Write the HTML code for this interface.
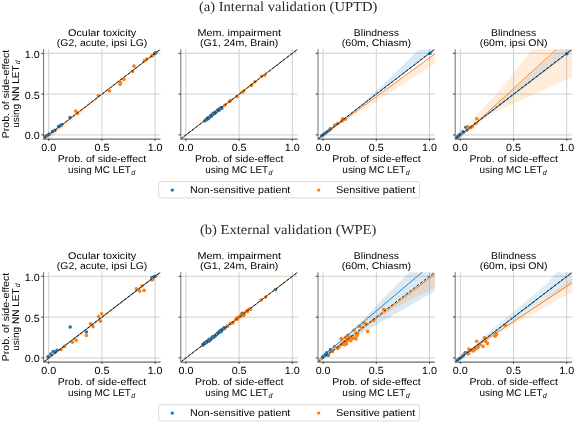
<!DOCTYPE html>
<html><head><meta charset="utf-8"><style>
html,body{margin:0;padding:0;background:#fff;width:575px;height:423px;overflow:hidden}
svg{display:block;will-change:transform}
text{font-family:"Liberation Sans", sans-serif;text-rendering:geometricPrecision}
</style></head><body>
<svg width="575" height="423" viewBox="0 0 575 423">
<rect width="575" height="423" fill="#fff"/>
<text x="198.90" y="11.30" style='font-family:"Liberation Serif", serif' font-size="13.6" textLength="178.5" lengthAdjust="spacingAndGlyphs" fill="#2a2a2a">(a) Internal validation (UPTD)</text>
<text x="102.05" y="35.90" text-anchor="middle" font-size="9.8" textLength="68.10" lengthAdjust="spacingAndGlyphs">Ocular toxicity</text>
<text x="102.05" y="46.30" text-anchor="middle" font-size="9.8" textLength="90.50" lengthAdjust="spacingAndGlyphs">(G2, acute, ipsi LG)</text>
<clipPath id="c00"><rect x="43.60" y="49.20" width="116.90" height="89.70"/></clipPath>
<path d="M48.70 49.20V138.90M43.60 134.90H160.50M101.90 49.20V138.90M43.60 94.10H160.50M155.10 49.20V138.90M43.60 53.30H160.50" stroke="#cfcfcf" stroke-width="1" fill="none"/>
<g clip-path="url(#c00)">
<polygon points="44.00,138.60 98.00,97.60 97.60,100.50 50.80,137.40 49.00,138.90" fill="rgba(255,127,14,0.15)"/>
<circle cx="45.50" cy="136.60" r="1.8" fill="#1f77b4"/>
<circle cx="47.00" cy="135.50" r="1.8" fill="#1f77b4"/>
<circle cx="49.20" cy="134.10" r="1.8" fill="#1f77b4"/>
<circle cx="52.50" cy="131.50" r="1.8" fill="#1f77b4"/>
<circle cx="54.70" cy="130.40" r="1.8" fill="#1f77b4"/>
<circle cx="58.40" cy="126.70" r="1.8" fill="#1f77b4"/>
<circle cx="61.50" cy="124.90" r="1.8" fill="#1f77b4"/>
<circle cx="60.00" cy="125.80" r="1.8" fill="#1f77b4"/>
<circle cx="70.10" cy="117.50" r="1.8" fill="#1f77b4"/>
<circle cx="154.70" cy="53.50" r="1.8" fill="#1f77b4"/>
<circle cx="155.70" cy="52.80" r="1.8" fill="#1f77b4"/>
<circle cx="75.60" cy="111.10" r="1.8" fill="#ff7f0e"/>
<circle cx="77.40" cy="113.20" r="1.8" fill="#ff7f0e"/>
<circle cx="98.30" cy="95.80" r="1.8" fill="#ff7f0e"/>
<circle cx="109.60" cy="91.00" r="1.8" fill="#ff7f0e"/>
<circle cx="120.10" cy="84.30" r="1.8" fill="#ff7f0e"/>
<circle cx="120.40" cy="82.60" r="1.8" fill="#ff7f0e"/>
<circle cx="123.90" cy="79.40" r="1.8" fill="#ff7f0e"/>
<circle cx="132.60" cy="71.50" r="1.8" fill="#ff7f0e"/>
<circle cx="134.00" cy="66.10" r="1.8" fill="#ff7f0e"/>
<circle cx="144.20" cy="60.90" r="1.8" fill="#ff7f0e"/>
<circle cx="146.70" cy="59.10" r="1.8" fill="#ff7f0e"/>
<circle cx="151.60" cy="56.00" r="1.8" fill="#ff7f0e"/>
<circle cx="152.60" cy="55.60" r="1.8" fill="#ff7f0e"/>
<line x1="43.60" y1="138.90" x2="160.50" y2="49.20" stroke="#1f77b4" stroke-width="0.9"/>
<line x1="43.60" y1="138.90" x2="160.50" y2="49.20" stroke="#ff7f0e" stroke-width="0.9"/>
<line x1="43.60" y1="138.90" x2="160.50" y2="49.20" stroke="#1a1a1a" stroke-width="1.0" stroke-dasharray="3 1.6"/>
</g>
<path d="M43.60 49.20V138.90" stroke="#707070" stroke-width="1" fill="none"/>
<path d="M43.10 139.15H160.50" stroke="#6a6a6a" stroke-width="1.3" fill="none"/>
<path d="M48.70 138.90v1.9M43.60 134.90h-2.3M101.90 138.90v1.9M43.60 94.10h-2.3M155.10 138.90v1.9M43.60 53.30h-2.3" stroke="#3a3a3a" stroke-width="1" fill="none"/>
<text x="48.70" y="150.60" text-anchor="middle" font-size="10.4" textLength="14.95" lengthAdjust="spacingAndGlyphs">0.0</text>
<text x="39.70" y="139.35" text-anchor="end" font-size="10.4" textLength="14.95" lengthAdjust="spacingAndGlyphs">0.0</text>
<text x="101.90" y="150.60" text-anchor="middle" font-size="10.4" textLength="14.95" lengthAdjust="spacingAndGlyphs">0.5</text>
<text x="39.70" y="98.55" text-anchor="end" font-size="10.4" textLength="14.95" lengthAdjust="spacingAndGlyphs">0.5</text>
<text x="155.10" y="150.60" text-anchor="middle" font-size="10.4" textLength="14.95" lengthAdjust="spacingAndGlyphs">1.0</text>
<text x="39.70" y="57.75" text-anchor="end" font-size="10.4" textLength="14.95" lengthAdjust="spacingAndGlyphs">1.0</text>
<text x="102.05" y="161.70" text-anchor="middle" font-size="9.8" textLength="88.45" lengthAdjust="spacingAndGlyphs">Prob. of side-effect</text>
<text x="99.45" y="172.60" text-anchor="middle" font-size="9.8" textLength="62.96" lengthAdjust="spacingAndGlyphs">using MC LET</text>
<text x="131.25" y="174.50" font-size="7" font-style="italic">d</text>
<text x="239.25" y="35.90" text-anchor="middle" font-size="9.8" textLength="83.42" lengthAdjust="spacingAndGlyphs">Mem. impairment</text>
<text x="239.25" y="46.30" text-anchor="middle" font-size="9.8" textLength="78.31" lengthAdjust="spacingAndGlyphs">(G1, 24m, Brain)</text>
<clipPath id="c01"><rect x="180.80" y="49.20" width="116.90" height="89.70"/></clipPath>
<path d="M185.90 49.20V138.90M180.80 134.90H297.70M239.10 49.20V138.90M180.80 94.10H297.70M292.30 49.20V138.90M180.80 53.30H297.70" stroke="#cfcfcf" stroke-width="1" fill="none"/>
<g clip-path="url(#c01)">
<circle cx="204.89" cy="120.85" r="1.8" fill="#1f77b4"/>
<circle cx="206.05" cy="119.53" r="1.8" fill="#1f77b4"/>
<circle cx="206.47" cy="119.46" r="1.8" fill="#1f77b4"/>
<circle cx="207.51" cy="118.33" r="1.8" fill="#1f77b4"/>
<circle cx="208.23" cy="117.75" r="1.8" fill="#1f77b4"/>
<circle cx="208.04" cy="118.68" r="1.8" fill="#1f77b4"/>
<circle cx="208.64" cy="118.29" r="1.8" fill="#1f77b4"/>
<circle cx="210.61" cy="115.63" r="1.8" fill="#1f77b4"/>
<circle cx="210.40" cy="116.61" r="1.8" fill="#1f77b4"/>
<circle cx="211.04" cy="116.15" r="1.8" fill="#1f77b4"/>
<circle cx="212.91" cy="113.65" r="1.8" fill="#1f77b4"/>
<circle cx="212.78" cy="114.49" r="1.8" fill="#1f77b4"/>
<circle cx="214.03" cy="113.01" r="1.8" fill="#1f77b4"/>
<circle cx="214.16" cy="113.43" r="1.8" fill="#1f77b4"/>
<circle cx="215.09" cy="112.48" r="1.8" fill="#1f77b4"/>
<circle cx="215.01" cy="113.23" r="1.8" fill="#1f77b4"/>
<circle cx="216.45" cy="111.45" r="1.8" fill="#1f77b4"/>
<circle cx="217.50" cy="110.32" r="1.8" fill="#1f77b4"/>
<circle cx="217.65" cy="110.69" r="1.8" fill="#1f77b4"/>
<circle cx="218.67" cy="109.60" r="1.8" fill="#1f77b4"/>
<circle cx="219.25" cy="109.26" r="1.8" fill="#1f77b4"/>
<circle cx="218.98" cy="110.31" r="1.8" fill="#1f77b4"/>
<circle cx="220.75" cy="107.99" r="1.8" fill="#1f77b4"/>
<circle cx="221.17" cy="107.90" r="1.8" fill="#1f77b4"/>
<circle cx="221.41" cy="108.13" r="1.8" fill="#1f77b4"/>
<circle cx="221.67" cy="108.31" r="1.8" fill="#1f77b4"/>
<circle cx="224.80" cy="105.10" r="1.8" fill="#ff7f0e"/>
<circle cx="229.70" cy="101.40" r="1.8" fill="#ff7f0e"/>
<circle cx="230.50" cy="100.60" r="1.8" fill="#ff7f0e"/>
<circle cx="237.00" cy="96.60" r="1.8" fill="#ff7f0e"/>
<circle cx="242.50" cy="92.10" r="1.8" fill="#ff7f0e"/>
<circle cx="243.50" cy="91.30" r="1.8" fill="#ff7f0e"/>
<circle cx="251.00" cy="85.60" r="1.8" fill="#ff7f0e"/>
<circle cx="251.70" cy="85.00" r="1.8" fill="#ff7f0e"/>
<circle cx="255.00" cy="81.70" r="1.8" fill="#ff7f0e"/>
<circle cx="261.50" cy="76.30" r="1.8" fill="#ff7f0e"/>
<circle cx="264.80" cy="75.20" r="1.8" fill="#ff7f0e"/>
<line x1="180.80" y1="138.90" x2="297.70" y2="49.20" stroke="#1f77b4" stroke-width="0.9"/>
<line x1="180.80" y1="138.90" x2="297.70" y2="49.20" stroke="#ff7f0e" stroke-width="0.9"/>
<line x1="180.80" y1="138.90" x2="297.70" y2="49.20" stroke="#1a1a1a" stroke-width="1.0" stroke-dasharray="3 1.6"/>
</g>
<path d="M180.80 49.20V138.90" stroke="#707070" stroke-width="1" fill="none"/>
<path d="M180.30 139.15H297.70" stroke="#6a6a6a" stroke-width="1.3" fill="none"/>
<path d="M185.90 138.90v1.9M180.80 134.90h-2.3M239.10 138.90v1.9M180.80 94.10h-2.3M292.30 138.90v1.9M180.80 53.30h-2.3" stroke="#3a3a3a" stroke-width="1" fill="none"/>
<text x="185.90" y="150.60" text-anchor="middle" font-size="10.4" textLength="14.95" lengthAdjust="spacingAndGlyphs">0.0</text>
<text x="239.10" y="150.60" text-anchor="middle" font-size="10.4" textLength="14.95" lengthAdjust="spacingAndGlyphs">0.5</text>
<text x="292.30" y="150.60" text-anchor="middle" font-size="10.4" textLength="14.95" lengthAdjust="spacingAndGlyphs">1.0</text>
<text x="239.25" y="161.70" text-anchor="middle" font-size="9.8" textLength="88.45" lengthAdjust="spacingAndGlyphs">Prob. of side-effect</text>
<text x="236.65" y="172.60" text-anchor="middle" font-size="9.8" textLength="62.96" lengthAdjust="spacingAndGlyphs">using MC LET</text>
<text x="268.45" y="174.50" font-size="7" font-style="italic">d</text>
<text x="376.45" y="35.90" text-anchor="middle" font-size="9.8" textLength="45.13" lengthAdjust="spacingAndGlyphs">Blindness</text>
<text x="376.45" y="46.30" text-anchor="middle" font-size="9.8" textLength="69.38" lengthAdjust="spacingAndGlyphs">(60m, Chiasm)</text>
<clipPath id="c02"><rect x="318.00" y="49.20" width="116.90" height="89.70"/></clipPath>
<path d="M323.10 49.20V138.90M318.00 134.90H434.90M376.30 49.20V138.90M318.00 94.10H434.90M429.50 49.20V138.90M318.00 53.30H434.90" stroke="#cfcfcf" stroke-width="1" fill="none"/>
<g clip-path="url(#c02)">
<polygon points="320.00,137.00 347.60,116.00 358.90,106.50 377.80,89.50 419.40,49.20 436.00,49.20 436.00,48.50 345.00,118.10" fill="rgba(31,119,180,0.16)"/>
<polygon points="345.00,119.50 436.00,53.20 436.00,63.20 345.00,121.00" fill="rgba(255,127,14,0.15)"/>
<circle cx="321.80" cy="135.80" r="1.8" fill="#1f77b4"/>
<circle cx="323.50" cy="134.60" r="1.8" fill="#1f77b4"/>
<circle cx="325.20" cy="133.20" r="1.8" fill="#1f77b4"/>
<circle cx="327.20" cy="131.80" r="1.8" fill="#1f77b4"/>
<circle cx="329.20" cy="130.20" r="1.8" fill="#1f77b4"/>
<circle cx="330.50" cy="128.80" r="1.8" fill="#1f77b4"/>
<circle cx="430.00" cy="53.30" r="1.8" fill="#1f77b4"/>
<circle cx="330.60" cy="129.20" r="1.8" fill="#ff7f0e"/>
<circle cx="334.80" cy="125.00" r="1.8" fill="#ff7f0e"/>
<circle cx="337.90" cy="123.50" r="1.8" fill="#ff7f0e"/>
<circle cx="342.10" cy="120.90" r="1.8" fill="#ff7f0e"/>
<circle cx="342.60" cy="118.80" r="1.8" fill="#ff7f0e"/>
<circle cx="345.20" cy="119.30" r="1.8" fill="#ff7f0e"/>
<line x1="318.00" y1="139.20" x2="436.00" y2="53.10" stroke="#ff7f0e" stroke-width="0.9"/>
<line x1="318.00" y1="138.90" x2="436.00" y2="48.20" stroke="#1f77b4" stroke-width="0.9"/>
<line x1="318.00" y1="138.90" x2="434.90" y2="49.20" stroke="#1a1a1a" stroke-width="1.0" stroke-dasharray="3 1.6"/>
</g>
<path d="M318.00 49.20V138.90" stroke="#707070" stroke-width="1" fill="none"/>
<path d="M317.50 139.15H434.90" stroke="#6a6a6a" stroke-width="1.3" fill="none"/>
<path d="M323.10 138.90v1.9M318.00 134.90h-2.3M376.30 138.90v1.9M318.00 94.10h-2.3M429.50 138.90v1.9M318.00 53.30h-2.3" stroke="#3a3a3a" stroke-width="1" fill="none"/>
<text x="323.10" y="150.60" text-anchor="middle" font-size="10.4" textLength="14.95" lengthAdjust="spacingAndGlyphs">0.0</text>
<text x="376.30" y="150.60" text-anchor="middle" font-size="10.4" textLength="14.95" lengthAdjust="spacingAndGlyphs">0.5</text>
<text x="429.50" y="150.60" text-anchor="middle" font-size="10.4" textLength="14.95" lengthAdjust="spacingAndGlyphs">1.0</text>
<text x="376.45" y="161.70" text-anchor="middle" font-size="9.8" textLength="88.45" lengthAdjust="spacingAndGlyphs">Prob. of side-effect</text>
<text x="373.85" y="172.60" text-anchor="middle" font-size="9.8" textLength="62.96" lengthAdjust="spacingAndGlyphs">using MC LET</text>
<text x="405.65" y="174.50" font-size="7" font-style="italic">d</text>
<text x="513.65" y="35.90" text-anchor="middle" font-size="9.8" textLength="45.13" lengthAdjust="spacingAndGlyphs">Blindness</text>
<text x="513.65" y="46.30" text-anchor="middle" font-size="9.8" textLength="67.93" lengthAdjust="spacingAndGlyphs">(60m, ipsi ON)</text>
<clipPath id="c03"><rect x="455.20" y="49.20" width="116.90" height="89.70"/></clipPath>
<path d="M460.30 49.20V138.90M455.20 134.90H572.10M513.50 49.20V138.90M455.20 94.10H572.10M566.70 49.20V138.90M455.20 53.30H572.10" stroke="#cfcfcf" stroke-width="1" fill="none"/>
<g clip-path="url(#c03)">
<polygon points="460.00,133.00 505.00,84.30 531.80,49.20 573.00,49.20 573.00,76.60 475.70,120.80 460.00,130.00" fill="rgba(255,127,14,0.15)"/>
<polygon points="470.00,128.50 558.60,49.20 573.00,49.20 573.00,50.00 470.00,130.00" fill="rgba(31,119,180,0.12)"/>
<circle cx="457.00" cy="137.20" r="1.8" fill="#1f77b4"/>
<circle cx="458.00" cy="136.20" r="1.8" fill="#1f77b4"/>
<circle cx="459.90" cy="134.20" r="1.8" fill="#1f77b4"/>
<circle cx="462.90" cy="131.70" r="1.8" fill="#1f77b4"/>
<circle cx="465.90" cy="127.30" r="1.8" fill="#1f77b4"/>
<circle cx="566.90" cy="53.70" r="1.8" fill="#1f77b4"/>
<circle cx="466.90" cy="130.30" r="1.8" fill="#ff7f0e"/>
<circle cx="467.90" cy="126.80" r="1.8" fill="#ff7f0e"/>
<circle cx="470.90" cy="127.80" r="1.8" fill="#ff7f0e"/>
<circle cx="472.30" cy="126.30" r="1.8" fill="#ff7f0e"/>
<circle cx="475.80" cy="123.30" r="1.8" fill="#ff7f0e"/>
<circle cx="476.80" cy="118.80" r="1.8" fill="#ff7f0e"/>
<line x1="455.00" y1="142.05" x2="560.00" y2="46.19" stroke="#ff7f0e" stroke-width="0.9"/>
<line x1="455.30" y1="138.90" x2="572.60" y2="49.20" stroke="#1f77b4" stroke-width="0.9"/>
<line x1="455.20" y1="138.90" x2="572.10" y2="49.20" stroke="#1a1a1a" stroke-width="1.0" stroke-dasharray="3 1.6"/>
</g>
<path d="M455.20 49.20V138.90" stroke="#707070" stroke-width="1" fill="none"/>
<path d="M454.70 139.15H572.10" stroke="#6a6a6a" stroke-width="1.3" fill="none"/>
<path d="M460.30 138.90v1.9M455.20 134.90h-2.3M513.50 138.90v1.9M455.20 94.10h-2.3M566.70 138.90v1.9M455.20 53.30h-2.3" stroke="#3a3a3a" stroke-width="1" fill="none"/>
<text x="460.30" y="150.60" text-anchor="middle" font-size="10.4" textLength="14.95" lengthAdjust="spacingAndGlyphs">0.0</text>
<text x="513.50" y="150.60" text-anchor="middle" font-size="10.4" textLength="14.95" lengthAdjust="spacingAndGlyphs">0.5</text>
<text x="566.70" y="150.60" text-anchor="middle" font-size="10.4" textLength="14.95" lengthAdjust="spacingAndGlyphs">1.0</text>
<text x="513.65" y="161.70" text-anchor="middle" font-size="9.8" textLength="88.45" lengthAdjust="spacingAndGlyphs">Prob. of side-effect</text>
<text x="511.05" y="172.60" text-anchor="middle" font-size="9.8" textLength="62.96" lengthAdjust="spacingAndGlyphs">using MC LET</text>
<text x="542.85" y="174.50" font-size="7" font-style="italic">d</text>
<g transform="translate(9.0 94.05) rotate(-90)">
<text x="0.00" y="0.00" text-anchor="middle" font-size="9.8" textLength="88.45" lengthAdjust="spacingAndGlyphs">Prob. of side-effect</text>
</g>
<g transform="translate(19.45 94.05) rotate(-90)">
<text x="-2.60" y="0.00" text-anchor="middle" font-size="9.8" textLength="62.35" lengthAdjust="spacingAndGlyphs">using NN LET</text>
<text x="29.7" y="1.0" font-size="7" font-style="italic">d</text>
</g>
<rect x="158.7" y="181.60" width="260.8" height="16.3" rx="2" ry="2" fill="#fff" stroke="#d6d6d6" stroke-width="0.9"/>
<circle cx="172.3" cy="190.10" r="1.7" fill="#1f77b4"/>
<circle cx="318.7" cy="190.10" r="1.7" fill="#ff7f0e"/>
<text x="190.00" y="192.90" text-anchor="start" font-size="9.8" textLength="100.36" lengthAdjust="spacingAndGlyphs">Non-sensitive patient</text>
<text x="336.00" y="192.90" text-anchor="start" font-size="9.8" textLength="79.30" lengthAdjust="spacingAndGlyphs">Sensitive patient</text>
<text x="199.90" y="234.30" style='font-family:"Liberation Serif", serif' font-size="13.6" textLength="176.5" lengthAdjust="spacingAndGlyphs" fill="#2a2a2a">(b) External validation (WPE)</text>
<text x="102.05" y="258.90" text-anchor="middle" font-size="9.8" textLength="68.10" lengthAdjust="spacingAndGlyphs">Ocular toxicity</text>
<text x="102.05" y="269.30" text-anchor="middle" font-size="9.8" textLength="90.50" lengthAdjust="spacingAndGlyphs">(G2, acute, ipsi LG)</text>
<clipPath id="c10"><rect x="43.60" y="272.20" width="116.90" height="89.70"/></clipPath>
<path d="M48.70 272.20V361.90M43.60 357.90H160.50M101.90 272.20V361.90M43.60 317.10H160.50M155.10 272.20V361.90M43.60 276.30H160.50" stroke="#cfcfcf" stroke-width="1" fill="none"/>
<g clip-path="url(#c10)">
<circle cx="70.20" cy="327.00" r="1.8" fill="#1f77b4"/>
<circle cx="86.40" cy="332.00" r="1.8" fill="#1f77b4"/>
<circle cx="53.20" cy="351.50" r="1.8" fill="#1f77b4"/>
<circle cx="57.00" cy="350.20" r="1.8" fill="#1f77b4"/>
<circle cx="50.70" cy="354.00" r="1.8" fill="#1f77b4"/>
<circle cx="48.10" cy="356.60" r="1.8" fill="#1f77b4"/>
<circle cx="55.00" cy="352.00" r="1.8" fill="#1f77b4"/>
<circle cx="151.90" cy="277.80" r="1.8" fill="#1f77b4"/>
<circle cx="155.20" cy="276.20" r="1.8" fill="#1f77b4"/>
<circle cx="153.50" cy="277.00" r="1.8" fill="#1f77b4"/>
<circle cx="86.40" cy="335.50" r="1.8" fill="#ff7f0e"/>
<circle cx="72.40" cy="342.20" r="1.8" fill="#ff7f0e"/>
<circle cx="76.20" cy="340.30" r="1.8" fill="#ff7f0e"/>
<circle cx="64.50" cy="346.40" r="1.8" fill="#ff7f0e"/>
<circle cx="60.90" cy="349.60" r="1.8" fill="#ff7f0e"/>
<circle cx="90.50" cy="323.80" r="1.8" fill="#ff7f0e"/>
<circle cx="93.10" cy="326.60" r="1.8" fill="#ff7f0e"/>
<circle cx="98.60" cy="316.60" r="1.8" fill="#ff7f0e"/>
<circle cx="101.70" cy="313.80" r="1.8" fill="#ff7f0e"/>
<circle cx="100.50" cy="321.20" r="1.8" fill="#ff7f0e"/>
<circle cx="136.30" cy="288.90" r="1.8" fill="#ff7f0e"/>
<circle cx="139.70" cy="291.10" r="1.8" fill="#ff7f0e"/>
<circle cx="141.90" cy="286.00" r="1.8" fill="#ff7f0e"/>
<circle cx="144.10" cy="290.40" r="1.8" fill="#ff7f0e"/>
<circle cx="151.90" cy="280.00" r="1.8" fill="#ff7f0e"/>
<circle cx="153.00" cy="279.00" r="1.8" fill="#ff7f0e"/>
<line x1="43.60" y1="362.50" x2="160.90" y2="272.20" stroke="#ff7f0e" stroke-width="0.9"/>
<line x1="43.60" y1="361.90" x2="160.90" y2="271.60" stroke="#1f77b4" stroke-width="0.9"/>
<line x1="43.60" y1="361.90" x2="160.50" y2="272.20" stroke="#1a1a1a" stroke-width="1.0" stroke-dasharray="3 1.6"/>
</g>
<path d="M43.60 272.20V361.90" stroke="#707070" stroke-width="1" fill="none"/>
<path d="M43.10 362.15H160.50" stroke="#6a6a6a" stroke-width="1.3" fill="none"/>
<path d="M48.70 361.90v1.9M43.60 357.90h-2.3M101.90 361.90v1.9M43.60 317.10h-2.3M155.10 361.90v1.9M43.60 276.30h-2.3" stroke="#3a3a3a" stroke-width="1" fill="none"/>
<text x="48.70" y="373.60" text-anchor="middle" font-size="10.4" textLength="14.95" lengthAdjust="spacingAndGlyphs">0.0</text>
<text x="39.70" y="362.35" text-anchor="end" font-size="10.4" textLength="14.95" lengthAdjust="spacingAndGlyphs">0.0</text>
<text x="101.90" y="373.60" text-anchor="middle" font-size="10.4" textLength="14.95" lengthAdjust="spacingAndGlyphs">0.5</text>
<text x="39.70" y="321.55" text-anchor="end" font-size="10.4" textLength="14.95" lengthAdjust="spacingAndGlyphs">0.5</text>
<text x="155.10" y="373.60" text-anchor="middle" font-size="10.4" textLength="14.95" lengthAdjust="spacingAndGlyphs">1.0</text>
<text x="39.70" y="280.75" text-anchor="end" font-size="10.4" textLength="14.95" lengthAdjust="spacingAndGlyphs">1.0</text>
<text x="102.05" y="384.70" text-anchor="middle" font-size="9.8" textLength="88.45" lengthAdjust="spacingAndGlyphs">Prob. of side-effect</text>
<text x="99.45" y="395.60" text-anchor="middle" font-size="9.8" textLength="62.96" lengthAdjust="spacingAndGlyphs">using MC LET</text>
<text x="131.25" y="397.50" font-size="7" font-style="italic">d</text>
<text x="239.25" y="258.90" text-anchor="middle" font-size="9.8" textLength="83.42" lengthAdjust="spacingAndGlyphs">Mem. impairment</text>
<text x="239.25" y="269.30" text-anchor="middle" font-size="9.8" textLength="78.31" lengthAdjust="spacingAndGlyphs">(G1, 24m, Brain)</text>
<clipPath id="c11"><rect x="180.80" y="272.20" width="116.90" height="89.70"/></clipPath>
<path d="M185.90 272.20V361.90M180.80 357.90H297.70M239.10 272.20V361.90M180.80 317.10H297.70M292.30 272.20V361.90M180.80 276.30H297.70" stroke="#cfcfcf" stroke-width="1" fill="none"/>
<g clip-path="url(#c11)">
<circle cx="202.86" cy="344.44" r="1.8" fill="#1f77b4"/>
<circle cx="202.82" cy="345.10" r="1.8" fill="#1f77b4"/>
<circle cx="203.94" cy="343.85" r="1.8" fill="#1f77b4"/>
<circle cx="204.90" cy="342.86" r="1.8" fill="#1f77b4"/>
<circle cx="205.28" cy="342.84" r="1.8" fill="#1f77b4"/>
<circle cx="206.32" cy="341.70" r="1.8" fill="#1f77b4"/>
<circle cx="206.05" cy="342.76" r="1.8" fill="#1f77b4"/>
<circle cx="207.45" cy="341.03" r="1.8" fill="#1f77b4"/>
<circle cx="207.48" cy="341.59" r="1.8" fill="#1f77b4"/>
<circle cx="209.04" cy="339.60" r="1.8" fill="#1f77b4"/>
<circle cx="209.61" cy="339.25" r="1.8" fill="#1f77b4"/>
<circle cx="208.88" cy="341.08" r="1.8" fill="#1f77b4"/>
<circle cx="209.62" cy="340.45" r="1.8" fill="#1f77b4"/>
<circle cx="210.44" cy="339.70" r="1.8" fill="#1f77b4"/>
<circle cx="212.46" cy="336.94" r="1.8" fill="#1f77b4"/>
<circle cx="212.18" cy="338.01" r="1.8" fill="#1f77b4"/>
<circle cx="213.19" cy="336.92" r="1.8" fill="#1f77b4"/>
<circle cx="213.28" cy="337.39" r="1.8" fill="#1f77b4"/>
<circle cx="214.32" cy="336.25" r="1.8" fill="#1f77b4"/>
<circle cx="214.78" cy="336.10" r="1.8" fill="#1f77b4"/>
<circle cx="215.39" cy="335.69" r="1.8" fill="#1f77b4"/>
<circle cx="216.48" cy="334.48" r="1.8" fill="#1f77b4"/>
<circle cx="217.15" cy="333.97" r="1.8" fill="#1f77b4"/>
<circle cx="218.40" cy="332.49" r="1.8" fill="#1f77b4"/>
<circle cx="218.67" cy="332.64" r="1.8" fill="#1f77b4"/>
<circle cx="219.79" cy="331.39" r="1.8" fill="#1f77b4"/>
<circle cx="220.33" cy="331.09" r="1.8" fill="#1f77b4"/>
<circle cx="221.25" cy="330.17" r="1.8" fill="#1f77b4"/>
<circle cx="221.34" cy="330.62" r="1.8" fill="#1f77b4"/>
<circle cx="221.10" cy="331.63" r="1.8" fill="#1f77b4"/>
<circle cx="223.03" cy="329.02" r="1.8" fill="#1f77b4"/>
<circle cx="223.89" cy="328.19" r="1.8" fill="#1f77b4"/>
<circle cx="224.46" cy="327.86" r="1.8" fill="#1f77b4"/>
<circle cx="224.52" cy="328.35" r="1.8" fill="#1f77b4"/>
<circle cx="242.20" cy="313.30" r="1.8" fill="#1f77b4"/>
<circle cx="275.60" cy="289.60" r="1.8" fill="#1f77b4"/>
<circle cx="227.08" cy="326.16" r="1.8" fill="#ff7f0e"/>
<circle cx="227.62" cy="326.57" r="1.8" fill="#ff7f0e"/>
<circle cx="230.17" cy="323.61" r="1.8" fill="#ff7f0e"/>
<circle cx="231.14" cy="323.29" r="1.8" fill="#ff7f0e"/>
<circle cx="232.05" cy="323.06" r="1.8" fill="#ff7f0e"/>
<circle cx="233.09" cy="322.62" r="1.8" fill="#ff7f0e"/>
<circle cx="235.95" cy="319.15" r="1.8" fill="#ff7f0e"/>
<circle cx="237.63" cy="317.65" r="1.8" fill="#ff7f0e"/>
<circle cx="237.44" cy="319.25" r="1.8" fill="#ff7f0e"/>
<circle cx="240.16" cy="316.02" r="1.8" fill="#ff7f0e"/>
<circle cx="240.89" cy="316.09" r="1.8" fill="#ff7f0e"/>
<circle cx="241.86" cy="315.77" r="1.8" fill="#ff7f0e"/>
<circle cx="243.55" cy="314.25" r="1.8" fill="#ff7f0e"/>
<circle cx="245.84" cy="311.73" r="1.8" fill="#ff7f0e"/>
<circle cx="247.47" cy="310.32" r="1.8" fill="#ff7f0e"/>
<circle cx="247.41" cy="311.70" r="1.8" fill="#ff7f0e"/>
<circle cx="249.87" cy="308.90" r="1.8" fill="#ff7f0e"/>
<circle cx="250.28" cy="309.51" r="1.8" fill="#ff7f0e"/>
<circle cx="240.00" cy="316.70" r="1.8" fill="#ff7f0e"/>
<circle cx="244.00" cy="315.50" r="1.8" fill="#ff7f0e"/>
<circle cx="261.10" cy="300.00" r="1.8" fill="#ff7f0e"/>
<circle cx="265.60" cy="297.10" r="1.8" fill="#ff7f0e"/>
<line x1="180.80" y1="361.90" x2="297.70" y2="272.20" stroke="#1f77b4" stroke-width="0.9"/>
<line x1="180.80" y1="361.90" x2="297.70" y2="272.20" stroke="#ff7f0e" stroke-width="0.9"/>
<line x1="180.80" y1="361.90" x2="297.70" y2="272.20" stroke="#1a1a1a" stroke-width="1.0" stroke-dasharray="3 1.6"/>
</g>
<path d="M180.80 272.20V361.90" stroke="#707070" stroke-width="1" fill="none"/>
<path d="M180.30 362.15H297.70" stroke="#6a6a6a" stroke-width="1.3" fill="none"/>
<path d="M185.90 361.90v1.9M180.80 357.90h-2.3M239.10 361.90v1.9M180.80 317.10h-2.3M292.30 361.90v1.9M180.80 276.30h-2.3" stroke="#3a3a3a" stroke-width="1" fill="none"/>
<text x="185.90" y="373.60" text-anchor="middle" font-size="10.4" textLength="14.95" lengthAdjust="spacingAndGlyphs">0.0</text>
<text x="239.10" y="373.60" text-anchor="middle" font-size="10.4" textLength="14.95" lengthAdjust="spacingAndGlyphs">0.5</text>
<text x="292.30" y="373.60" text-anchor="middle" font-size="10.4" textLength="14.95" lengthAdjust="spacingAndGlyphs">1.0</text>
<text x="239.25" y="384.70" text-anchor="middle" font-size="9.8" textLength="88.45" lengthAdjust="spacingAndGlyphs">Prob. of side-effect</text>
<text x="236.65" y="395.60" text-anchor="middle" font-size="9.8" textLength="62.96" lengthAdjust="spacingAndGlyphs">using MC LET</text>
<text x="268.45" y="397.50" font-size="7" font-style="italic">d</text>
<text x="376.45" y="258.90" text-anchor="middle" font-size="9.8" textLength="45.13" lengthAdjust="spacingAndGlyphs">Blindness</text>
<text x="376.45" y="269.30" text-anchor="middle" font-size="9.8" textLength="69.38" lengthAdjust="spacingAndGlyphs">(60m, Chiasm)</text>
<clipPath id="c12"><rect x="318.00" y="272.20" width="116.90" height="89.70"/></clipPath>
<path d="M323.10 272.20V361.90M318.00 357.90H434.90M376.30 272.20V361.90M318.00 317.10H434.90M429.50 272.20V361.90M318.00 276.30H434.90" stroke="#cfcfcf" stroke-width="1" fill="none"/>
<g clip-path="url(#c12)">
<polygon points="320.00,359.00 363.50,319.30 383.60,298.00 407.30,274.40 409.40,272.20 436.00,272.20 436.00,290.40 410.00,305.40 354.70,337.20 320.00,360.00" fill="rgba(31,119,180,0.16)"/>
<polygon points="340.00,345.00 436.00,271.70 436.00,287.00 410.00,300.00 377.20,318.30 340.00,347.00" fill="rgba(255,127,14,0.15)"/>
<circle cx="330.40" cy="349.90" r="1.8" fill="#1f77b4"/>
<circle cx="326.60" cy="352.90" r="1.8" fill="#1f77b4"/>
<circle cx="325.10" cy="354.70" r="1.8" fill="#1f77b4"/>
<circle cx="322.80" cy="356.70" r="1.8" fill="#1f77b4"/>
<circle cx="328.10" cy="355.20" r="1.8" fill="#1f77b4"/>
<circle cx="383.70" cy="309.40" r="1.8" fill="#ff7f0e"/>
<circle cx="373.50" cy="320.40" r="1.8" fill="#ff7f0e"/>
<circle cx="367.70" cy="331.40" r="1.8" fill="#ff7f0e"/>
<circle cx="365.10" cy="323.40" r="1.8" fill="#ff7f0e"/>
<circle cx="363.90" cy="323.30" r="1.8" fill="#ff7f0e"/>
<circle cx="360.60" cy="326.60" r="1.8" fill="#ff7f0e"/>
<circle cx="359.40" cy="326.20" r="1.8" fill="#ff7f0e"/>
<circle cx="332.50" cy="351.40" r="1.8" fill="#ff7f0e"/>
<circle cx="334.50" cy="346.50" r="1.8" fill="#ff7f0e"/>
<circle cx="337.90" cy="348.50" r="1.8" fill="#ff7f0e"/>
<circle cx="339.10" cy="346.90" r="1.8" fill="#ff7f0e"/>
<circle cx="341.20" cy="338.60" r="1.8" fill="#ff7f0e"/>
<circle cx="343.20" cy="342.70" r="1.8" fill="#ff7f0e"/>
<circle cx="344.10" cy="341.90" r="1.8" fill="#ff7f0e"/>
<circle cx="345.30" cy="343.60" r="1.8" fill="#ff7f0e"/>
<circle cx="345.70" cy="337.40" r="1.8" fill="#ff7f0e"/>
<circle cx="346.50" cy="341.50" r="1.8" fill="#ff7f0e"/>
<circle cx="347.80" cy="335.30" r="1.8" fill="#ff7f0e"/>
<circle cx="348.20" cy="339.90" r="1.8" fill="#ff7f0e"/>
<circle cx="349.90" cy="337.80" r="1.8" fill="#ff7f0e"/>
<circle cx="350.70" cy="340.70" r="1.8" fill="#ff7f0e"/>
<circle cx="351.90" cy="336.50" r="1.8" fill="#ff7f0e"/>
<circle cx="354.00" cy="330.30" r="1.8" fill="#ff7f0e"/>
<circle cx="354.80" cy="338.20" r="1.8" fill="#ff7f0e"/>
<circle cx="356.10" cy="339.00" r="1.8" fill="#ff7f0e"/>
<circle cx="356.90" cy="335.70" r="1.8" fill="#ff7f0e"/>
<circle cx="357.70" cy="333.60" r="1.8" fill="#ff7f0e"/>
<circle cx="346.50" cy="344.00" r="1.8" fill="#ff7f0e"/>
<circle cx="349.00" cy="339.00" r="1.8" fill="#ff7f0e"/>
<circle cx="344.50" cy="344.80" r="1.8" fill="#ff7f0e"/>
<circle cx="341.50" cy="344.50" r="1.8" fill="#ff7f0e"/>
<circle cx="347.00" cy="339.50" r="1.8" fill="#ff7f0e"/>
<circle cx="352.50" cy="338.50" r="1.8" fill="#ff7f0e"/>
<line x1="318.00" y1="360.20" x2="436.00" y2="260.58" stroke="#1f77b4" stroke-width="0.9"/>
<line x1="318.00" y1="362.44" x2="436.00" y2="273.55" stroke="#ff7f0e" stroke-width="0.9"/>
<line x1="318.00" y1="361.90" x2="434.90" y2="272.20" stroke="#1a1a1a" stroke-width="1.0" stroke-dasharray="3 1.6"/>
</g>
<path d="M318.00 272.20V361.90" stroke="#707070" stroke-width="1" fill="none"/>
<path d="M317.50 362.15H434.90" stroke="#6a6a6a" stroke-width="1.3" fill="none"/>
<path d="M323.10 361.90v1.9M318.00 357.90h-2.3M376.30 361.90v1.9M318.00 317.10h-2.3M429.50 361.90v1.9M318.00 276.30h-2.3" stroke="#3a3a3a" stroke-width="1" fill="none"/>
<text x="323.10" y="373.60" text-anchor="middle" font-size="10.4" textLength="14.95" lengthAdjust="spacingAndGlyphs">0.0</text>
<text x="376.30" y="373.60" text-anchor="middle" font-size="10.4" textLength="14.95" lengthAdjust="spacingAndGlyphs">0.5</text>
<text x="429.50" y="373.60" text-anchor="middle" font-size="10.4" textLength="14.95" lengthAdjust="spacingAndGlyphs">1.0</text>
<text x="376.45" y="384.70" text-anchor="middle" font-size="9.8" textLength="88.45" lengthAdjust="spacingAndGlyphs">Prob. of side-effect</text>
<text x="373.85" y="395.60" text-anchor="middle" font-size="9.8" textLength="62.96" lengthAdjust="spacingAndGlyphs">using MC LET</text>
<text x="405.65" y="397.50" font-size="7" font-style="italic">d</text>
<text x="513.65" y="258.90" text-anchor="middle" font-size="9.8" textLength="45.13" lengthAdjust="spacingAndGlyphs">Blindness</text>
<text x="513.65" y="269.30" text-anchor="middle" font-size="9.8" textLength="67.93" lengthAdjust="spacingAndGlyphs">(60m, ipsi ON)</text>
<clipPath id="c13"><rect x="455.20" y="272.20" width="116.90" height="89.70"/></clipPath>
<path d="M460.30 272.20V361.90M455.20 357.90H572.10M513.50 272.20V361.90M455.20 317.10H572.10M566.70 272.20V361.90M455.20 276.30H572.10" stroke="#cfcfcf" stroke-width="1" fill="none"/>
<g clip-path="url(#c13)">
<polygon points="458.00,360.50 495.00,327.00 545.00,285.30 557.00,272.20 573.00,272.20 573.00,282.60 500.00,331.00 458.00,362.00" fill="rgba(31,119,180,0.14)"/>
<polygon points="470.00,349.50 530.00,310.70 573.00,276.80 573.00,291.40 514.60,323.70 470.00,351.00" fill="rgba(255,127,14,0.15)"/>
<circle cx="465.10" cy="352.80" r="1.8" fill="#1f77b4"/>
<circle cx="463.20" cy="355.30" r="1.8" fill="#1f77b4"/>
<circle cx="461.30" cy="357.20" r="1.8" fill="#1f77b4"/>
<circle cx="459.40" cy="358.50" r="1.8" fill="#1f77b4"/>
<circle cx="457.50" cy="360.00" r="1.8" fill="#1f77b4"/>
<circle cx="505.30" cy="325.30" r="1.8" fill="#ff7f0e"/>
<circle cx="495.80" cy="333.00" r="1.8" fill="#ff7f0e"/>
<circle cx="495.10" cy="336.20" r="1.8" fill="#ff7f0e"/>
<circle cx="496.50" cy="334.50" r="1.8" fill="#ff7f0e"/>
<circle cx="484.30" cy="337.80" r="1.8" fill="#ff7f0e"/>
<circle cx="485.60" cy="341.30" r="1.8" fill="#ff7f0e"/>
<circle cx="487.50" cy="343.40" r="1.8" fill="#ff7f0e"/>
<circle cx="476.60" cy="341.30" r="1.8" fill="#ff7f0e"/>
<circle cx="483.00" cy="346.40" r="1.8" fill="#ff7f0e"/>
<circle cx="478.50" cy="345.70" r="1.8" fill="#ff7f0e"/>
<circle cx="477.90" cy="347.70" r="1.8" fill="#ff7f0e"/>
<circle cx="476.00" cy="348.30" r="1.8" fill="#ff7f0e"/>
<circle cx="474.70" cy="349.60" r="1.8" fill="#ff7f0e"/>
<circle cx="473.40" cy="350.90" r="1.8" fill="#ff7f0e"/>
<circle cx="472.20" cy="350.30" r="1.8" fill="#ff7f0e"/>
<circle cx="469.00" cy="349.00" r="1.8" fill="#ff7f0e"/>
<circle cx="469.60" cy="350.90" r="1.8" fill="#ff7f0e"/>
<circle cx="468.30" cy="354.00" r="1.8" fill="#ff7f0e"/>
<circle cx="467.20" cy="352.50" r="1.8" fill="#ff7f0e"/>
<circle cx="480.00" cy="344.50" r="1.8" fill="#ff7f0e"/>
<line x1="455.00" y1="360.16" x2="573.00" y2="282.27" stroke="#ff7f0e" stroke-width="0.9"/>
<line x1="455.30" y1="361.90" x2="572.60" y2="272.20" stroke="#1f77b4" stroke-width="0.9"/>
<line x1="455.20" y1="361.90" x2="572.10" y2="272.20" stroke="#1a1a1a" stroke-width="1.0" stroke-dasharray="3 1.6"/>
</g>
<path d="M455.20 272.20V361.90" stroke="#707070" stroke-width="1" fill="none"/>
<path d="M454.70 362.15H572.10" stroke="#6a6a6a" stroke-width="1.3" fill="none"/>
<path d="M460.30 361.90v1.9M455.20 357.90h-2.3M513.50 361.90v1.9M455.20 317.10h-2.3M566.70 361.90v1.9M455.20 276.30h-2.3" stroke="#3a3a3a" stroke-width="1" fill="none"/>
<text x="460.30" y="373.60" text-anchor="middle" font-size="10.4" textLength="14.95" lengthAdjust="spacingAndGlyphs">0.0</text>
<text x="513.50" y="373.60" text-anchor="middle" font-size="10.4" textLength="14.95" lengthAdjust="spacingAndGlyphs">0.5</text>
<text x="566.70" y="373.60" text-anchor="middle" font-size="10.4" textLength="14.95" lengthAdjust="spacingAndGlyphs">1.0</text>
<text x="513.65" y="384.70" text-anchor="middle" font-size="9.8" textLength="88.45" lengthAdjust="spacingAndGlyphs">Prob. of side-effect</text>
<text x="511.05" y="395.60" text-anchor="middle" font-size="9.8" textLength="62.96" lengthAdjust="spacingAndGlyphs">using MC LET</text>
<text x="542.85" y="397.50" font-size="7" font-style="italic">d</text>
<g transform="translate(9.0 317.05) rotate(-90)">
<text x="0.00" y="0.00" text-anchor="middle" font-size="9.8" textLength="88.45" lengthAdjust="spacingAndGlyphs">Prob. of side-effect</text>
</g>
<g transform="translate(19.45 317.05) rotate(-90)">
<text x="-2.60" y="0.00" text-anchor="middle" font-size="9.8" textLength="62.35" lengthAdjust="spacingAndGlyphs">using NN LET</text>
<text x="29.7" y="1.0" font-size="7" font-style="italic">d</text>
</g>
<rect x="158.7" y="404.60" width="260.8" height="16.3" rx="2" ry="2" fill="#fff" stroke="#d6d6d6" stroke-width="0.9"/>
<circle cx="172.3" cy="413.10" r="1.7" fill="#1f77b4"/>
<circle cx="318.7" cy="413.10" r="1.7" fill="#ff7f0e"/>
<text x="190.00" y="415.90" text-anchor="start" font-size="9.8" textLength="100.36" lengthAdjust="spacingAndGlyphs">Non-sensitive patient</text>
<text x="336.00" y="415.90" text-anchor="start" font-size="9.8" textLength="79.30" lengthAdjust="spacingAndGlyphs">Sensitive patient</text>
</svg>
</body></html>
